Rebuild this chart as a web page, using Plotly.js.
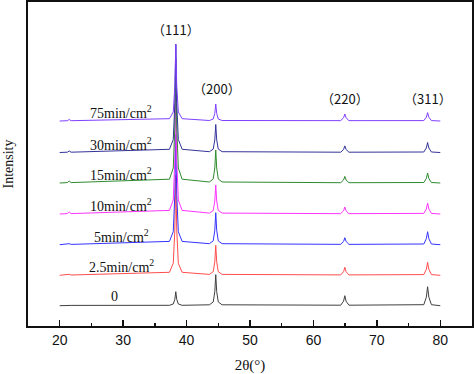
<!DOCTYPE html>
<html>
<head>
<meta charset="utf-8">
<script src="https://cdn.plot.ly/plotly-3.0.1.min.js"></script>
<style>html,body{margin:0;padding:0;background:#fff;}#chart{width:474px;height:374px;}</style>
</head>
<body>
<div id="chart"></div>
<script>
// 2theta sample points (degrees)
const twoTheta = [20, 21.2, 21.5, 21.8,
  37.3, 37.9, 38.15, 38.3, 38.45, 38.7, 39.3,
  43.6, 44.2, 44.45, 44.6, 44.75, 45.0, 45.6,
  64.3, 64.75, 64.95, 65.15, 65.6,
  77.4, 77.8, 78.0, 78.2, 78.6,
  80];

const seriesNames = ["0", "2.5min/cm<sup>2</sup>", "5min/cm<sup>2</sup>", "10min/cm<sup>2</sup>",
  "15min/cm<sup>2</sup>", "30min/cm<sup>2</sup>", "75min/cm<sup>2</sup>"];

// intensities (a.u., before vertical stacking)
const int0 = [0, 0.3, 0.5, 0.3,
  0.4, 1.7, 6.3, 14, 6.3, 1.7, 0.4,
  0.9, 3.7, 14, 31, 14, 3.7, 0.9,
  0.5, 4.5, 10, 4.5, 0.5,
  1, 8.5, 19, 8.5, 1,
  0];
const int25 = [0, 0.3, 1, 0.3,
  3, 12, 45, 100, 45, 12, 3,
  0.9, 3.6, 13.5, 30, 13.5, 3.6, 0.9,
  0.4, 3.6, 8, 3.6, 0.4,
  0.7, 6, 13, 6, 0.7,
  0];
const int5 = [0, 0.3, 1, 0.3,
  3.3, 13, 50, 110, 50, 13, 3.3,
  1, 3.8, 14.4, 32, 14.4, 3.8, 1,
  0.35, 3.2, 7, 3.2, 0.35,
  0.7, 6, 13, 6, 0.7,
  0];
const int10 = [0, 0.4, 2, 0.4,
  3.6, 14, 54, 120, 54, 14, 3.6,
  0.9, 3.5, 13, 29, 13, 3.5, 0.9,
  0.35, 3.2, 7, 3.2, 0.35,
  0.6, 5, 11, 5, 0.6,
  0];
const int15 = [0, 0.4, 2, 0.4,
  3.8, 15, 56, 125, 56, 15, 3.8,
  1, 4, 15, 33, 15, 4, 1,
  0.3, 3, 6.6, 3, 0.3,
  0.5, 4.5, 10, 4.5, 0.5,
  0];
const int30 = [0, 0.3, 1.5, 0.3,
  3.2, 13, 49, 108, 49, 13, 3.2,
  0.8, 3.4, 12.6, 28, 12.6, 3.4, 0.8,
  0.3, 3, 6.6, 3, 0.3,
  0.5, 4.5, 10, 4.5, 0.5,
  0];
const int75 = [0, 0.3, 1.5, 0.3,
  2.3, 9, 35, 77, 35, 9, 2.3,
  0.5, 2, 7.7, 17, 7.7, 2, 0.5,
  0.35, 3.2, 7, 3.2, 0.35,
  0.4, 3.8, 8.4, 3.8, 0.4,
  0];

// vertical stacking offsets
const offsets = [20.3, 50.7, 81.3, 112, 143, 173.5, 205];

const peakLabels = ["（111）", "（200）", "（220）", "（311）"];
const peakPositions = [38.3, 44.8, 64.9, 78.0];
const peakLabelY = [297, 238, 228, 228];

const xTicks = [20, 30, 40, 50, 60, 70, 80];

const allInt = [int0, int25, int5, int10, int15, int30, int75];
const colors = ["#404040", "#ff4d4d", "#3333ff", "#ff33ff", "#2e8b2e", "#333399", "#8040ff"];

const traces = allInt.map((arr, i) => ({
  x: twoTheta,
  y: arr.map(v => v + offsets[i]),
  type: "scatter",
  mode: "lines",
  line: {color: colors[i], width: 1},
  hoverinfo: "skip",
  showlegend: false
}));

const annotations = [];
seriesNames.forEach((n, i) => {
  annotations.push({
    x: i === 0 ? 28.6 : 29.7, y: offsets[i] + 9, xref: "x", yref: "y",
    text: n, showarrow: false, xanchor: "center", yanchor: "middle",
    font: {family: "Liberation Serif, Times New Roman, serif", size: 14, color: "#111"}
  });
});
peakLabels.forEach((t, i) => {
  annotations.push({
    x: peakPositions[i], y: peakLabelY[i], xref: "x", yref: "y",
    text: t, showarrow: false, xanchor: "center", yanchor: "middle",
    font: {family: "Noto Sans CJK SC, sans-serif", size: 13, color: "#111"}
  });
});

const layout = {
  width: 474, height: 374,
  margin: {l: 28, r: 2, t: 2, b: 48},
  paper_bgcolor: "#fff", plot_bgcolor: "#fff",
  xaxis: {
    range: [15, 85], tickvals: xTicks, ticktext: xTicks.map(String),
    ticks: "inside", ticklen: 6, tickwidth: 1.5, tickcolor: "#111",
    minor: {dtick: 5, tick0: 15, ticks: "inside", ticklen: 3, tickwidth: 1.5, tickcolor: "#111"},
    showgrid: false, zeroline: false,
    showline: true, linecolor: "#111", linewidth: 2, mirror: true,
    tickfont: {family: "Liberation Sans, Arial, sans-serif", size: 14, color: "#111"},
    title: {text: "2θ(°)", standoff: 14, font: {family: "Liberation Serif, Times New Roman, serif", size: 15, color: "#111"}}
  },
  yaxis: {
    range: [0, 324], showticklabels: false, ticks: "",
    showgrid: false, zeroline: false,
    showline: true, linecolor: "#111", linewidth: 2, mirror: true,
    title: {text: "Intensity", standoff: 9, font: {family: "Liberation Serif, Times New Roman, serif", size: 14, color: "#111"}}
  },
  annotations: annotations
};

Plotly.newPlot("chart", traces, layout, {staticPlot: true, displayModeBar: false});
</script>
</body>
</html>
